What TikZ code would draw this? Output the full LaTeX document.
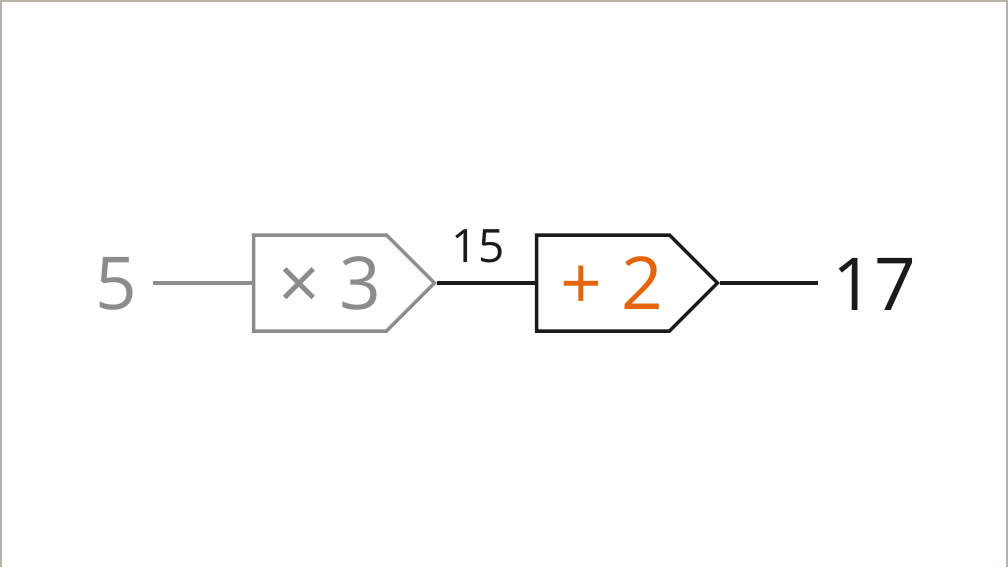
\documentclass[tikz,border=0pt]{standalone}
\usepackage{fontspec}
\setmainfont{Open Sans}
\usepackage{xcolor}
\usetikzlibrary{shapes.symbols}

\definecolor{fadegray}{HTML}{8C8C8C}
\definecolor{inkblack}{HTML}{1A1A1A}
\definecolor{machorange}{HTML}{E5650A}
\definecolor{framegray}{HTML}{B7B2AA}

\begin{document}
\begin{tikzpicture}[x=1pt,y=-1pt,
				machine/.style={signal,signal to=east,signal pointer angle=90,draw,line width=3.5pt,
					minimum width=181pt,minimum height=96pt,inner sep=0pt,font=\fontsize{73}{80}\selectfont},
				num/.style={inner sep=0pt,font=\fontsize{73}{80}\selectfont}]
				
				% Frame
				\useasboundingbox (0,0) rectangle (1008,567);
				\draw[framegray,line width=2pt] (1,567) -- (1,1) -- (1006.5,1) -- (1006.5,567);
				
				% Input and output
				\node[num,fadegray] (in) at (116,284) {5};
				\node[num,inkblack] (out) at (874,284) {17};
				
				% Machines
				\node[machine,fadegray] (m1) at (320,283) {\hspace{20pt}× 3};
				\node[machine,inkblack,text=machorange] (m2) at (603,283) {\hspace{18pt}+ 2};
				
				% Middle value
				\node[inkblack,inner sep=0pt,font=\fontsize{46}{50}\selectfont] (mid) at (478,246) {15};
				
				% Connections
				\draw[fadegray,line width=3.5pt] (153,283) -- (m1.west);
				\draw[inkblack,line width=3.5pt] (m1.east) -- (m2.west);
				\draw[inkblack,line width=3.5pt] (m2.east) -- (818,283);
			\end{tikzpicture}
\end{document}
